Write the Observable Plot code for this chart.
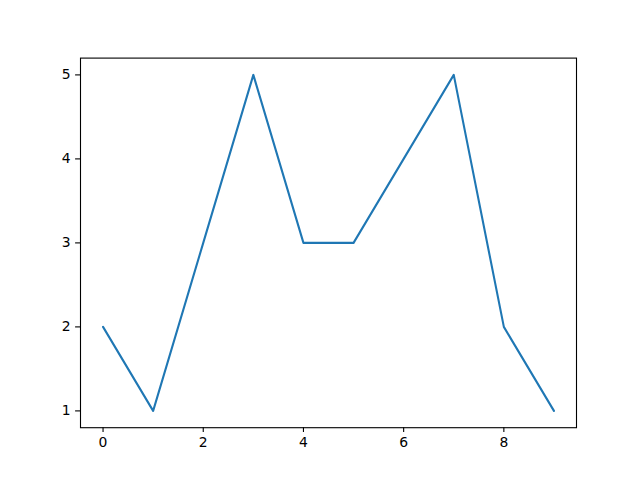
<!DOCTYPE html>
<html>
<head>
<meta charset="utf-8">
<script src="https://cdn.jsdelivr.net/npm/d3@7"></script>
<script src="https://cdn.jsdelivr.net/npm/@observablehq/plot@0.6"></script>
<style>
  html, body { margin: 0; padding: 0; background: white; }
</style>
</head>
<body>
<div id="chart"></div>
<script>
const xValues = [0, 1, 2, 3, 4, 5, 6, 7, 8, 9];
const yValues = [2, 1, 3, 5, 3, 3, 4, 5, 2, 1];
const xTicks = [0, 2, 4, 6, 8];
const yTicks = [1, 2, 3, 4, 5];

const data = xValues.map((x, i) => ({x, y: yValues[i]}));

const chart = Plot.plot({
  width: 640,
  height: 480,
  marginLeft: 80,
  marginRight: 64,
  marginTop: 57.6,
  marginBottom: 52.8,
  style: {fontFamily: "DejaVu Sans", fontSize: "13.9px", color: "black", background: "white"},
  x: {domain: [-0.45, 9.45]},
  y: {domain: [0.8, 5.2]},
  marks: [
    Plot.axisX({ticks: xTicks, tickSize: 4.9, tickPadding: 4.9, label: null, tickFormat: d => d, strokeWidth: 1.1}),
    Plot.axisY({ticks: yTicks, tickSize: 4.9, tickPadding: 4.9, label: null, tickFormat: d => d, strokeWidth: 1.1}),
    Plot.line(data, {x: "x", y: "y", stroke: "#1f77b4", strokeWidth: 2.08}),
    Plot.frame({stroke: "black", strokeWidth: 1.1})
  ]
});
document.getElementById("chart").appendChild(chart);
</script>
</body>
</html>
